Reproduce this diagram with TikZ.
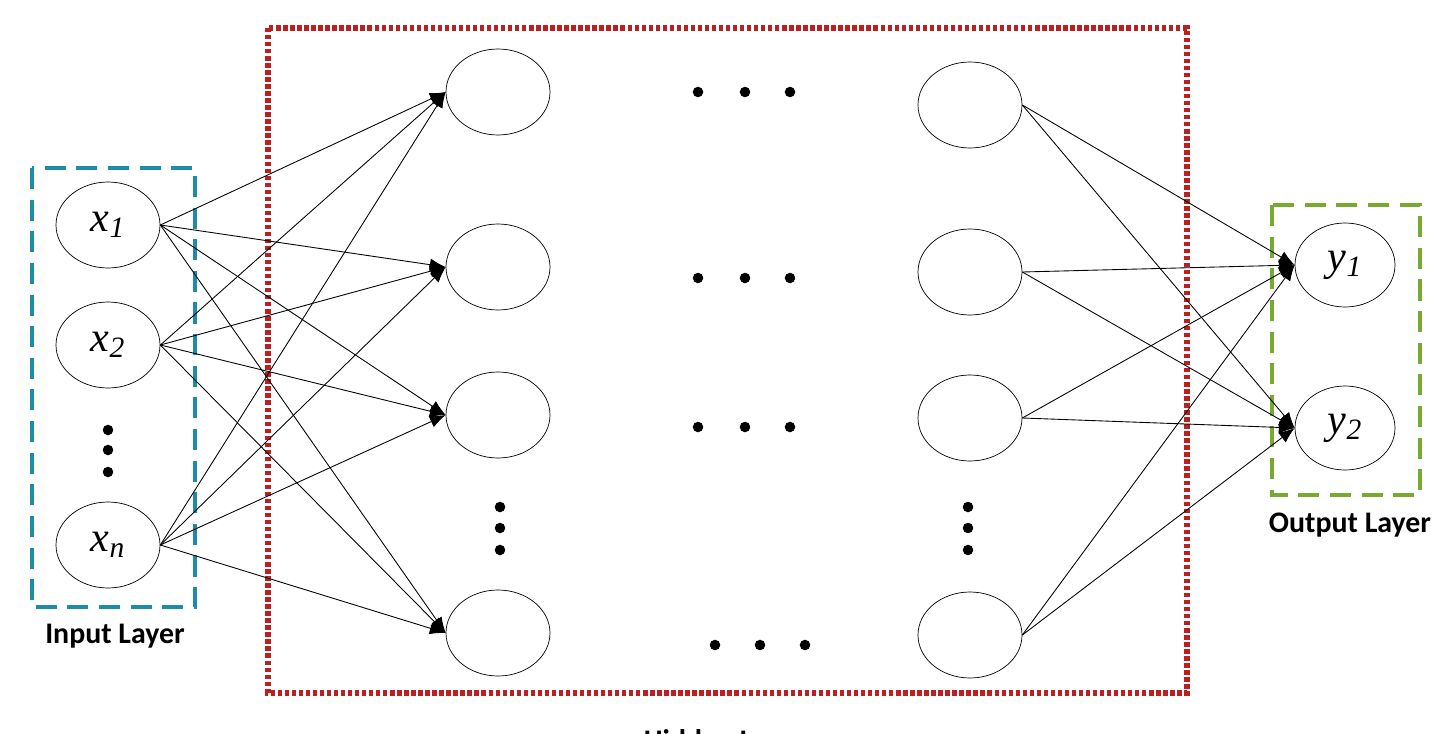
\documentclass[tikz,border=0pt]{standalone}
\usepackage{fontspec}
\setmainfont{Liberation Serif}
\newfontfamily\lblfont{Carlito}
\usetikzlibrary{arrows.meta,shapes.geometric}
\definecolor{inbox}{RGB}{30,140,165}
\definecolor{hidbox}{RGB}{190,30,30}
\definecolor{outbox}{RGB}{120,170,50}
\begin{document}
\begin{tikzpicture}[x=0.02cm,y=-0.02cm,
  neuron/.style={draw,ellipse,minimum width=104*0.02cm,minimum height=86*0.02cm,inner sep=0pt,font=\fontsize{24}{26}\selectfont\itshape},
  conn/.style={-{Latex[length=9pt,width=7pt]},line width=0.5pt},
  dotc/.style={fill=black,circle,inner sep=0pt,minimum size=6pt},
  lbl/.style={font=\lblfont\bfseries\fontsize{17}{19}\selectfont}]
\useasboundingbox (0,0) rectangle (1455,734);
\draw[inbox,line width=1.8pt,dash pattern=on 12pt off 6pt] (32,168) rectangle (195,607);
\draw[hidbox,line width=3pt,dash pattern=on 2.5pt off 1.5pt] (268,28) rectangle (1187,693);
\draw[outbox,line width=2.5pt,dash pattern=on 12pt off 6pt] (1272,205) rectangle (1420,495);
\node[neuron] (x1) at (108,225) {x\textsubscript{1}};
\node[neuron] (x2) at (108,345) {x\textsubscript{2}};
\node[neuron] (xn) at (108,545) {x\textsubscript{n}};
\foreach \y/\n in {430/a,450/b,472/c} \node[dotc] (id\n) at (108,\y) {};
\foreach \y/\n in {92/1,267/2,415/3,633/4} \node[neuron] (h\n) at (498,\y) {};
\foreach \y/\n in {105/1,272/2,418/3,635/4} \node[neuron] (g\n) at (970,\y) {};
\node[neuron,minimum width=100*0.02cm,minimum height=84*0.02cm] (y1) at (1345,265) {y\textsubscript{1}};
\node[neuron,minimum width=100*0.02cm,minimum height=84*0.02cm] (y2) at (1345,428) {y\textsubscript{2}};
\foreach \y/\n in {507/a,528/b,550/c} {\node[dotc] (ha\n) at (500,\y) {}; \node[dotc] (ga\n) at (968,\y) {};}
\foreach \y/\r in {92/1,278/2,427/3} \foreach \x/\n in {698/a,745/b,790/c} \node[dotc] (hd\r\n) at (\x,\y) {};
\foreach \x/\n in {715/a,760/b,805/c} \node[dotc] (hd4\n) at (\x,645) {};
\foreach \i in {x1,x2,xn} \foreach \j in {h1,h2,h3,h4} \draw[conn] (\i.east) -- (\j.west);
\foreach \i in {g1,g2,g3,g4} \foreach \j in {y1,y2} \draw[conn] (\i.east) -- (\j.west);
\node[lbl] (il) at (115,636) {Input Layer};
\node[lbl] (ol) at (1350,525) {Output Layer};
\node[lbl] (hl) at (725,742) {Hidden Layer};
\end{tikzpicture}
\end{document}
